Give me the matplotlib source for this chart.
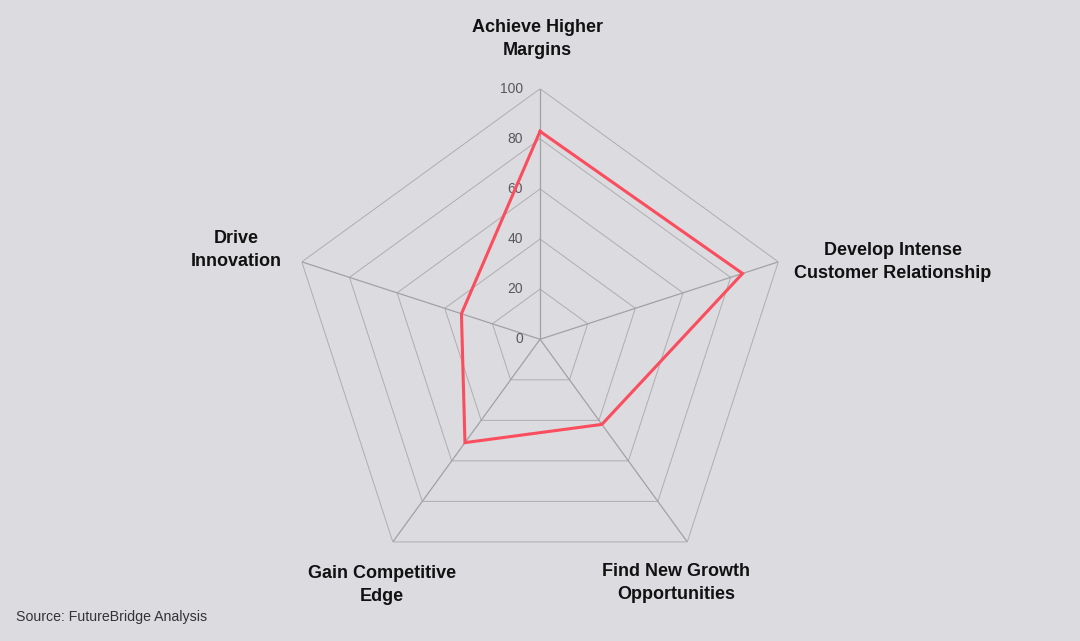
import numpy as np
import matplotlib.pyplot as plt

categories = ["Achieve Higher\nMargins", "Develop Intense\nCustomer Relationship",
              "Find New Growth\nOpportunities", "Gain Competitive\nEdge", "Drive\nInnovation"]
values = [83, 85, 42, 51, 33]
ticks = [0, 20, 40, 60, 80, 100]

plt.rcParams['font.family'] = ['Liberation Sans', 'DejaVu Sans']

bg = '#dcdbe0'
fig = plt.figure(figsize=(10.8, 6.41), dpi=100, facecolor=bg)
ax = fig.add_axes([0.2681, 0.0799, 0.4639, 0.7816], projection='polar')
ax.set_facecolor(bg)
ax.set_theta_offset(np.pi / 2)
ax.set_theta_direction(-1)
ax.set_ylim(0, 100)
ax.grid(False)
ax.spines['polar'].set_visible(False)
ax.set_xticks([])
ax.set_yticks([])

n = len(categories)
angles = np.linspace(0, 2 * np.pi, n, endpoint=False)
closed = np.append(angles, angles[0])

# pentagon grid rings and spokes
for t in ticks[1:]:
    ax.plot(closed, [t] * (n + 1), color='#aeaeb0', lw=0.7, zorder=1)
for a in angles:
    ax.plot([a, a], [0, 100], color='#a2a2a4', lw=0.9, zorder=1)

# tick labels
for t in ticks:
    ax.annotate(str(t), xy=(0, t), xytext=(-17, 0), textcoords='offset pixels',
                ha='right', va='center', fontsize=10, color='#58585e', zorder=3)

# data line
vals = values + values[:1]
ax.plot(closed, vals, color='#fa4d5d', lw=2.2, zorder=4, solid_joinstyle='miter')

# category labels
offsets = [((-3, 50), 'center'), ((16, 0), 'left'), ((-11, -41), 'center'),
           ((-11, -43), 'center'), ((-20, 12), 'right')]
for a, lab, (off, ha) in zip(angles, categories, offsets):
    ax.annotate(lab, xy=(a, 100), xytext=off, textcoords='offset pixels',
                ha=ha, va='center', multialignment='center', fontsize=13,
                fontweight='bold', color='#111111', linespacing=1.5,
                annotation_clip=False)

fig.text(16 / 1080, 1 - 617 / 641, "Source: FutureBridge Analysis", fontsize=10.2,
         color='#333333', ha='left', va='center')

fig.savefig('out.png', dpi=100, facecolor=bg)
